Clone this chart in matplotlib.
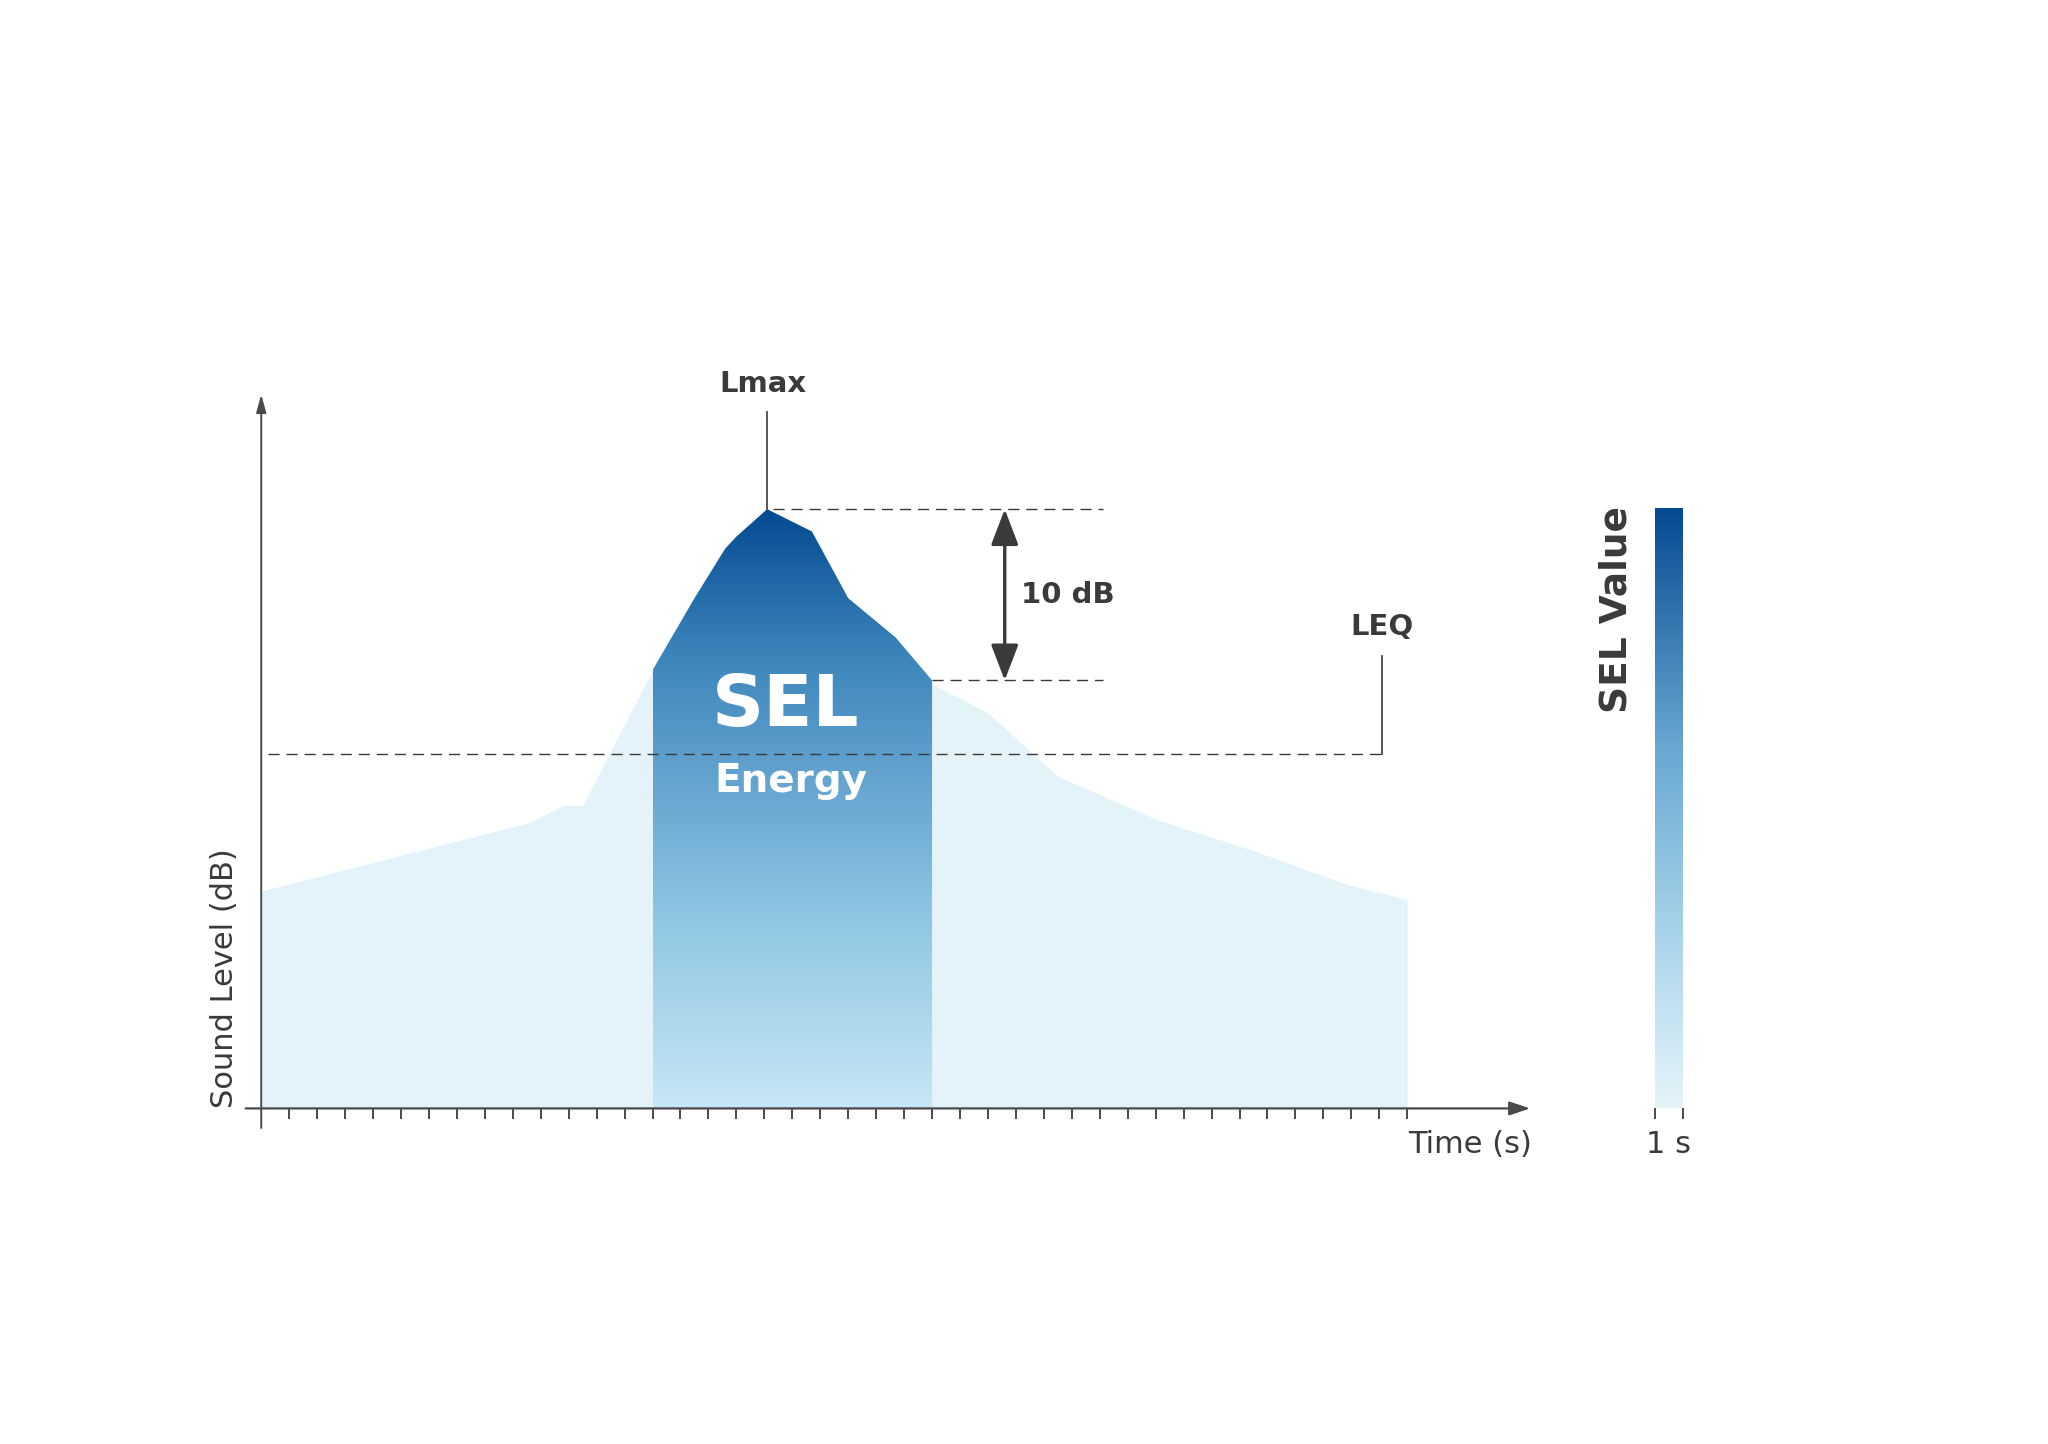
import numpy as np
import matplotlib
matplotlib.use("Agg")
import matplotlib.pyplot as plt
from matplotlib.colors import LinearSegmentedColormap
from matplotlib.patches import Polygon

plt.rcParams['font.family'] = ['DejaVu Sans']

# event envelope, time in s, level in dB
env_t = [0, 9.6, 10.8, 11.5, 14, 15.5, 16.6, 17.0, 18.1, 19.7, 21.0, 22.7, 24, 24,
         26.0, 28.5, 32.0, 35.6, 38.8, 41]
env_db = [72.7, 76.7, 77.7, 77.7, 85.6, 89.8, 92.7, 93.4, 95.0, 93.7, 89.8, 87.5, 85.0, 84.8,
          83.1, 79.4, 76.9, 75.0, 73.1, 72.2]
sel_start, sel_end = 14, 24      # the 10 dB down window
baseline = 60.0
l_max, t_max = 95.0, 18.1
l_10 = l_max - 10
leq = 80.7
n_ticks = 41

dark = '#3a3a3a'
axc = '#4a4a4a'
light = '#e4f3fa'
sel_cmap = LinearSegmentedColormap.from_list(
    'sel', [(0, '#c6e7f5'), (0.3, '#92c8e4'), (0.6, '#5a9ccb'), (0.75, '#3d86bc'), (1, '#044a91')])
bar_cmap = LinearSegmentedColormap.from_list(
    'bar', [(0, '#e6f4fa'), (0.3, '#a6d3ea'), (0.6, '#69a8d2'), (1, '#044a91')])

fig = plt.figure(figsize=(20.48, 14.44), dpi=100)
ax = fig.add_axes([0, 0, 1, 1])
ax.set_xlim(-9.346, 63.925)
ax.set_ylim(40.40, 124.74)
ax.axis('off')

# light envelope
ax.fill_between(env_t, baseline, env_db, color=light, lw=0, zorder=1)

# SEL window with gradient
t = np.array(env_t)
d = np.array(env_db)
m = (t >= sel_start) & (t <= sel_end)
m[13] = False
verts = [(sel_start, baseline)] + list(zip(t[m], d[m])) + [(sel_end, baseline)]
poly = Polygon(verts, closed=True, fc='none', ec='none')
ax.add_patch(poly)
grad = np.linspace(0, 1, 256).reshape(-1, 1)
im = ax.imshow(grad, cmap=sel_cmap, origin='lower', aspect='auto',
               extent=(sel_start, sel_end, baseline, l_max), zorder=2, interpolation='bicubic')
im.set_clip_path(poly)

# axes
ax.annotate('', xy=(45.4, baseline), xytext=(-0.56, baseline),
            arrowprops=dict(arrowstyle='-|>,head_length=0.9,head_width=0.3', mutation_scale=14,
                            color=axc, lw=1.6, shrinkA=0, shrinkB=0), zorder=4)
ax.annotate('', xy=(0, 101.7), xytext=(0, 58.86),
            arrowprops=dict(arrowstyle='-|>,head_length=0.9,head_width=0.25', mutation_scale=12,
                            color=axc, lw=1.4, shrinkA=0, shrinkB=0), zorder=4)
ax.vlines(np.arange(1, n_ticks + 1), baseline - 0.61, baseline, color=axc, lw=1.4, zorder=4)

# dashed reference lines
dash = dict(color=dark, lw=1.0, dashes=(8, 5), zorder=3)
ax.plot([t_max + 0.2, 30.1], [l_max, l_max], **dash)
ax.plot([sel_end, 30.1], [l_10, l_10], **dash)
ax.plot([0.25, 40.1], [leq, leq], **dash)
ax.plot([40.1, 40.1], [leq, 86.4], color=axc, lw=1.3, zorder=3)
ax.plot([t_max, t_max], [l_max, 100.7], color=axc, lw=1.3, zorder=3)

# 10 dB arrow
ax.annotate('', xy=(26.6, l_max), xytext=(26.6, l_10),
            arrowprops=dict(arrowstyle='<|-|>,head_length=1.1,head_width=0.42', mutation_scale=20,
                            color=dark, lw=2.4, shrinkA=0, shrinkB=0), zorder=4)

# text
ax.text(27.2, 90.0, '10 dB', fontsize=21, fontweight='bold', color=dark, ha='left', va='center')
ax.text(17.95, 102.3, 'Lmax', fontsize=21, fontweight='bold', color=dark, ha='center', va='center')
ax.text(40.1, 88.1, 'LEQ', fontsize=21, fontweight='bold', color=dark, ha='center', va='center')
ax.text(18.75, 83.5, 'SEL', fontsize=52, fontweight='bold', color='white', ha='center', va='center', zorder=5)
ax.text(18.95, 79.1, 'Energy', fontsize=28, fontweight='bold', color='white', ha='center', va='center', zorder=5)
ax.text(-1.3, baseline, 'Sound Level (dB)', fontsize=22, color=dark,
        rotation=90, ha='center', va='bottom')
ax.text(45.47, 57.9, 'Time (s)', fontsize=22, color=dark, ha='right', va='center')

# SEL value bar
cb_left = 49.85
ax.imshow(np.linspace(0, 1, 256).reshape(-1, 1), cmap=bar_cmap, origin='lower', aspect='auto',
          extent=(cb_left, cb_left + 1, baseline, l_max), zorder=2)
ax.vlines([cb_left, cb_left + 1], baseline - 0.61, baseline, color=axc, lw=1.4)
ax.text(cb_left + 0.5, 57.9, '1 s', fontsize=22, color=dark, ha='center', va='center')
ax.text(48.5, 95.2, 'SEL Value', fontsize=27, fontweight='bold', color=dark,
        rotation=90, ha='center', va='top')

ax.set_xlim(-9.346, 63.925)
ax.set_ylim(40.40, 124.74)
fig.savefig('out.png', dpi=100, facecolor='white')
